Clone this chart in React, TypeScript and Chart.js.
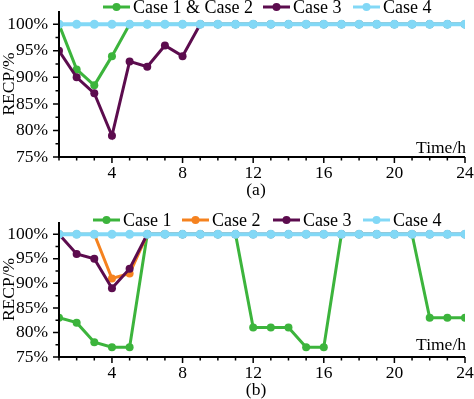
import React, { useEffect, useRef } from "react";
import { Chart, registerables } from "chart.js";

Chart.register(...registerables);

// ---------- data ----------
const hours = [1, 2, 3, 4, 5, 6, 7, 8, 9, 10, 11, 12, 13, 14, 15, 16, 17, 18, 19, 20, 21, 22, 23, 24];
const xTickLabels = [4, 8, 12, 16, 20, 24];
const yTickLabels = [75, 80, 85, 90, 95, 100];

// (a)
const aLabels = ["Case 1 & Case 2", "Case 3", "Case 4"];
const aCase12 = [100, 91.5, 88.5, 94, 100, 100, 100, 100, 100, 100, 100, 100, 100, 100, 100, 100, 100, 100, 100, 100, 100, 100, 100, 100];
const aCase3 = [95, 90, 87, 79, 93, 92, 96, 94, 100, 100, 100, 100, 100, 100, 100, 100, 100, 100, 100, 100, 100, 100, 100, 100];
const aCase4 = [100, 100, 100, 100, 100, 100, 100, 100, 100, 100, 100, 100, 100, 100, 100, 100, 100, 100, 100, 100, 100, 100, 100, 100];

// (b)
const bLabels = ["Case 1", "Case 2", "Case 3", "Case 4"];
const bCase1 = [83, 82, 78, 77, 77, 100, 100, 100, 100, 100, 100, 81, 81, 81, 77, 77, 100, 100, 100, 100, 100, 83, 83, 83];
const bCase2 = [100, 100, 100, 91, 92, 100, 100, 100, 100, 100, 100, 100, 100, 100, 100, 100, 100, 100, 100, 100, 100, 100, 100, 100];
const bCase3 = [100, 96, 95, 89, 93, 100, 100, 100, 100, 100, 100, 100, 100, 100, 100, 100, 100, 100, 100, 100, 100, 100, 100, 100];
const bCase4 = [100, 100, 100, 100, 100, 100, 100, 100, 100, 100, 100, 100, 100, 100, 100, 100, 100, 100, 100, 100, 100, 100, 100, 100];

// ---------- style ----------
const GREEN = "#3cb43c";
const ORANGE = "#f5821f";
const PURPLE = "#5c0c4e";
const CYAN = "#82d8f6";
const FONT = '"Liberation Serif", "Times New Roman", serif';
const FS = 17.5;
const LEGEND_FS = 18;

type Panel = {
  height: number;
  top: number;
  bottom: number;
  labels: string[];
  series: number[][];
  colors: string[];
  widths: number[];
  radii: number[];
  orders: number[];
  legendY: number;
  legendXs: number[];
  timeY: number;
  tag: string;
};

function makeDecor(p: Panel) {
  return {
    id: "decor",
    afterDraw(chart: any) {
      const ctx: CanvasRenderingContext2D = chart.ctx;
      const { left, right, top, bottom } = chart.chartArea;
      const xs = chart.scales.x;
      const ys = chart.scales.y;
      ctx.save();
      ctx.strokeStyle = "#000";
      ctx.lineWidth = 2;
      ctx.beginPath();
      ctx.moveTo(left, top);
      ctx.lineTo(left, bottom);
      ctx.lineTo(right, bottom);
      ctx.stroke();
      ctx.lineWidth = 1.5;
      ctx.beginPath();
      for (const h of hours) {
        const px = xs.getPixelForValue(h);
        const len = xTickLabels.includes(h) ? 6 : 3.5;
        ctx.moveTo(px, bottom);
        ctx.lineTo(px, bottom + len);
      }
      for (let v = 75; v <= 100; v += 2.5) {
        const py = ys.getPixelForValue(v);
        const len = v % 5 === 0 ? 6 : 3.5;
        ctx.moveTo(left - len, py);
        ctx.lineTo(left, py);
      }
      ctx.stroke();

      // legend
      ctx.font = `${LEGEND_FS}px ${FONT}`;
      ctx.textBaseline = "middle";
      ctx.textAlign = "left";
      chart.data.datasets.forEach((ds: any, i: number) => {
        const x0 = p.legendXs[i];
        ctx.strokeStyle = ds.borderColor;
        ctx.lineWidth = 3;
        ctx.beginPath();
        ctx.moveTo(x0, p.legendY);
        ctx.lineTo(x0 + 27, p.legendY);
        ctx.stroke();
        ctx.fillStyle = ds.borderColor;
        ctx.beginPath();
        ctx.arc(x0 + 13.5, p.legendY, 4, 0, Math.PI * 2);
        ctx.fill();
        ctx.fillStyle = "#000";
        ctx.fillText(ds.label, x0 + 30, p.legendY + 1);
      });

      ctx.font = `${FS}px ${FONT}`;
      ctx.fillStyle = "#000";
      ctx.textAlign = "right";
      ctx.fillText("Time/h", 466, p.timeY);
      ctx.textAlign = "center";
      ctx.fillText(p.tag, 256, p.height - 9);

      ctx.save();
      ctx.translate(9, (top + bottom) / 2);
      ctx.rotate(-Math.PI / 2);
      ctx.textAlign = "center";
      ctx.fillText("RECP/%", 0, 0);
      ctx.restore();
      ctx.restore();
    },
  };
}

function PanelChart({ p, offset }: { p: Panel; offset: number }) {
  const ref = useRef<HTMLCanvasElement>(null);
  useEffect(() => {
    if (!ref.current) return;
    const datasets = p.series.map((s, i) => ({
      label: p.labels[i],
      data: s.map((v, k) => ({ x: hours[k], y: v })),
      borderColor: p.colors[i],
      backgroundColor: p.colors[i],
      pointBackgroundColor: p.colors[i],
      pointBorderColor: p.colors[i],
      borderWidth: p.widths[i],
      pointRadius: p.radii[i],
      pointBorderWidth: 0,
      tension: 0,
      order: p.orders[i],
      clip: 0,
    }));
    const chart = new Chart(ref.current, {
      type: "line",
      data: { datasets },
      plugins: [makeDecor(p)],
      options: {
        animation: false,
        responsive: false,
        maintainAspectRatio: false,
        devicePixelRatio: 1,
        layout: { padding: { left: 0, right: 9, top: p.top, bottom: p.height - p.bottom - 30 } },
        plugins: { legend: { display: false }, tooltip: { enabled: false }, title: { display: false } },
        scales: {
          x: {
            type: "linear",
            min: 1,
            max: 24,
            grid: { display: false, drawTicks: false },
            border: { display: false },
            afterBuildTicks: (s: any) => {
              s.ticks = xTickLabels.map((v) => ({ value: v }));
            },
            afterFit: (s: any) => {
              s.height = 30;
              s.paddingLeft = 0;
              s.paddingRight = 0;
            },
            ticks: {
              padding: 6,
              maxRotation: 0,
              autoSkip: false,
              color: "#000",
              font: { family: FONT, size: FS },
            },
          },
          y: {
            min: 75,
            max: 102.5,
            grid: { display: false, drawTicks: false },
            border: { display: false },
            afterBuildTicks: (s: any) => {
              s.ticks = yTickLabels.map((v) => ({ value: v }));
            },
            afterFit: (s: any) => {
              s.width = 59;
              s.paddingTop = 0;
              s.paddingBottom = 0;
            },
            ticks: {
              padding: 11,
              autoSkip: false,
              color: "#000",
              font: { family: FONT, size: FS },
              callback: (v: any) => `${v}%`,
            },
          },
        },
      } as any,
    });
    return () => chart.destroy();
  }, []);
  return (
    <canvas
      ref={ref}
      width={474}
      height={p.height}
      style={{ position: "absolute", left: 0, top: offset, width: 474, height: p.height }}
    />
  );
}

const panelA: Panel = {
  height: 199,
  top: 11,
  bottom: 157,
  labels: aLabels,
  series: [aCase12, aCase3, aCase4],
  colors: [GREEN, PURPLE, CYAN],
  widths: [3, 3, 4],
  radii: [4, 4, 4.5],
  orders: [3, 1, 0],
  legendY: 7,
  legendXs: [103, 263, 353],
  timeY: 148,
  tag: "(a)",
};

const panelB: Panel = {
  height: 200,
  top: 23,
  bottom: 158,
  labels: bLabels,
  series: [bCase1, bCase2, bCase3, bCase4],
  colors: [GREEN, ORANGE, PURPLE, CYAN],
  widths: [3, 3, 3, 4],
  radii: [4, 4, 4, 4.5],
  orders: [3, 2, 1, 0],
  legendY: 21,
  legendXs: [93, 182, 273, 363],
  timeY: 146,
  tag: "(b)",
};

export default function App() {
  return (
    <div style={{ position: "fixed", left: 0, top: 0, width: 474, height: 399, background: "#fff", overflow: "hidden" }}>
      <PanelChart p={panelA} offset={0} />
      <PanelChart p={panelB} offset={199} />
    </div>
  );
}
